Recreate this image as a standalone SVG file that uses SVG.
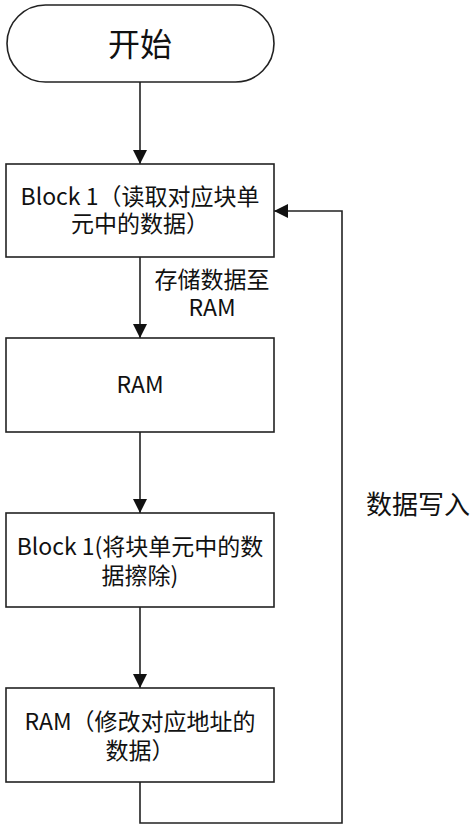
<svg xmlns="http://www.w3.org/2000/svg" width="474" height="828" viewBox="0 0 474 828">
<style>
.box{fill:#fff;stroke:#222;stroke-width:1.6}
.ln{fill:none;stroke:#222;stroke-width:1.6}
text{font-family:"Noto Sans CJK SC","Noto Sans",sans-serif;fill:#111;text-anchor:middle}
.t{font-size:23px}
</style>
<defs>
<marker id="ah" viewBox="0 0 14 14" refX="14" refY="7" markerWidth="14" markerHeight="14" markerUnits="userSpaceOnUse" orient="auto">
<path d="M0,0 L14,7 L0,14 Z" fill="#111"/>
</marker>
</defs>
<rect width="474" height="828" fill="#fff"/>
<g id="connectors">
<line class="ln" x1="140" y1="82" x2="140" y2="164" marker-end="url(#ah)"/>
<line class="ln" x1="140" y1="257" x2="140" y2="338" marker-end="url(#ah)"/>
<line class="ln" x1="140" y1="432" x2="140" y2="513" marker-end="url(#ah)"/>
<line class="ln" x1="140" y1="607" x2="140" y2="688" marker-end="url(#ah)"/>
<polyline class="ln" points="140,782 140,823 342,823 342,211 274,211" marker-end="url(#ah)"/>
<text class="t" x="212" y="288" font-size="22">存储数据至</text>
<text class="t" x="212" y="316">RAM</text>
<text x="418" y="514" font-size="26">数据写入</text>
</g>
<g id="start">
<rect class="box" x="7" y="5" width="267" height="77" rx="38.5" ry="38.5"/>
<text x="140" y="56" font-size="32">开始</text>
</g>
<g id="block1-read">
<rect class="box" x="6" y="164" width="268" height="93"/>
<text class="t" x="140" y="205">Block 1（读取对应块单</text>
<text class="t" x="140" y="232">元中的数据）</text>
</g>
<g id="ram">
<rect class="box" x="6" y="338" width="268" height="94"/>
<text class="t" x="140" y="393">RAM</text>
</g>
<g id="block1-erase">
<rect class="box" x="6" y="513" width="268" height="94"/>
<text class="t" x="140" y="555">Block 1(将块单元中的数</text>
<text class="t" x="140" y="584">据擦除)</text>
</g>
<g id="ram-modify">
<rect class="box" x="6" y="688" width="268" height="94"/>
<text class="t" x="140" y="730">RAM（修改对应地址的</text>
<text class="t" x="140" y="759">数据）</text>
</g>
</svg>
